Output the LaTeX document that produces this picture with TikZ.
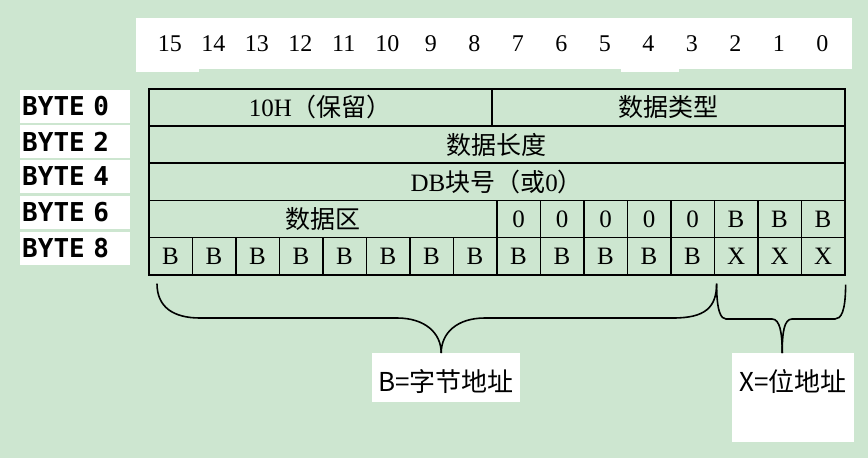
\documentclass[tikz,border=0pt]{standalone}
\usepackage{fontspec}
\setmainfont{Liberation Serif}
\newfontfamily\cjkfont{Noto Sans CJK SC}
\newfontfamily\bytefont{DejaVu Sans Mono Bold}
\usetikzlibrary{positioning}
\definecolor{mintBg}{RGB}{205,230,208}

\begin{document}
\begin{tikzpicture}[
    x=1pt, y=-1pt,
    cell/.style={
        draw, line width=1.6pt, anchor=north west, inner sep=0pt,
        minimum width=43.5pt, minimum height=37.2pt,
        font=\fontsize{25}{25}\selectfont
    },
    field/.style={cell, font=\cjkfont\fontsize{25}{25}\selectfont},
    bitnum/.style={font=\fontsize{24}{24}\selectfont, inner sep=0pt},
    bytelbl/.style={
        fill=white, anchor=west, minimum height=33pt, text width=106pt,
        inner xsep=2pt, align=left, font=\bytefont\fontsize{26}{26}\selectfont
    },
    addrlbl/.style={
        fill=white, anchor=north west, inner sep=0pt, text height=38pt,
        font=\cjkfont\fontsize{26}{26}\selectfont
    },
    brace/.style={line width=1.6pt}
]
    % background and bit number strip
    \fill[mintBg] (0,0) rectangle (868,458);
    \useasboundingbox (0,0) rectangle (868,458);
    \fill[white] (136,18) rectangle (852,69);
    \fill[white] (136,68) rectangle (199,72);
    \fill[white] (621,68) rectangle (679,72);

    \foreach \b in {15,...,0}
        \node[bitnum] (n\b) at ({169.75+(15-\b)*43.5},44) {\b};

    % byte labels
    \node[bytelbl] (byte0) at (20,106.5) {BYTE 0};
    \node[bytelbl] (byte2) at (20,141.5) {BYTE 2};
    \node[bytelbl] (byte4) at (20,176.5) {BYTE 4};
    \node[bytelbl] (byte6) at (20,212.5) {BYTE 6};
    \node[bytelbl] (byte8) at (20,248) {BYTE 8};

    % table rows
    \node[field, minimum width=343pt] (resv) at (148,88) {{\rmfamily 10H}（保留）};
    \node[field, minimum width=353pt] (dtype) at (491,88) {数据类型};
    \node[field, minimum width=696pt] (dlen) at (148,125.2) {数据长度};
    \node[field, minimum width=696pt] (dbno) at (148,162.4) {{\rmfamily DB}块号（或{\rmfamily 0}）};
    \node[field, minimum width=348pt] (darea) at (148,199.6) {数据区};
    \foreach \b/\t in {7/0,6/0,5/0,4/0,3/0,2/B,1/B,0/B}
        \node[cell] (a\b) at ({148+(15-\b)*43.5},199.6) {\t};
    \foreach \b in {15,...,3}
        \node[cell] (b\b) at ({148+(15-\b)*43.5},236.8) {B};
    \foreach \b in {2,1,0}
        \node[cell] (b\b) at ({148+(15-\b)*43.5},236.8) {X};

    % address labels
    \node[addrlbl, minimum width=148pt, text depth=11pt] (byteAddr) at (372,353) {B=字节地址};
    \node[addrlbl, minimum width=122pt, text depth=51pt] (bitAddr) at (732,353) {X=位地址};

    % braces
    \coordinate (bsL) at ([xshift=9pt,yshift=-8pt]b15.south west);
    \coordinate (bsR) at ([xshift=1.5pt,yshift=-8pt]b3.south east);
    \coordinate (xsR) at ([yshift=-9pt]b0.south east);
    \coordinate (apexB) at ([xshift=-5pt]byteAddr.north);
    \coordinate (apexX) at ([xshift=-11pt]bitAddr.north);

    \draw[brace] (bsL) .. controls +(0,24) and +(-26,0) .. (200,318) -- (397,318)
        .. controls +(28,0) and +(0,-20) .. (apexB);
    \draw[brace] (apexB) .. controls +(0,-20) and +(-28,0) .. (485,318) -- (673,318)
        .. controls +(32,0) and +(0,24) .. (bsR);
    \draw[brace] (bsR) .. controls +(0,28) and +(-5,0) .. (726,319) -- (772,319)
        .. controls +(8,0) and +(0,-20) .. (apexX);
    \draw[brace] (apexX) .. controls +(0,-20) and +(-8,0) .. (792,319) -- (835,319)
        .. controls +(6,0) and +(0,27) .. (xsR);
\end{tikzpicture}
\end{document}
